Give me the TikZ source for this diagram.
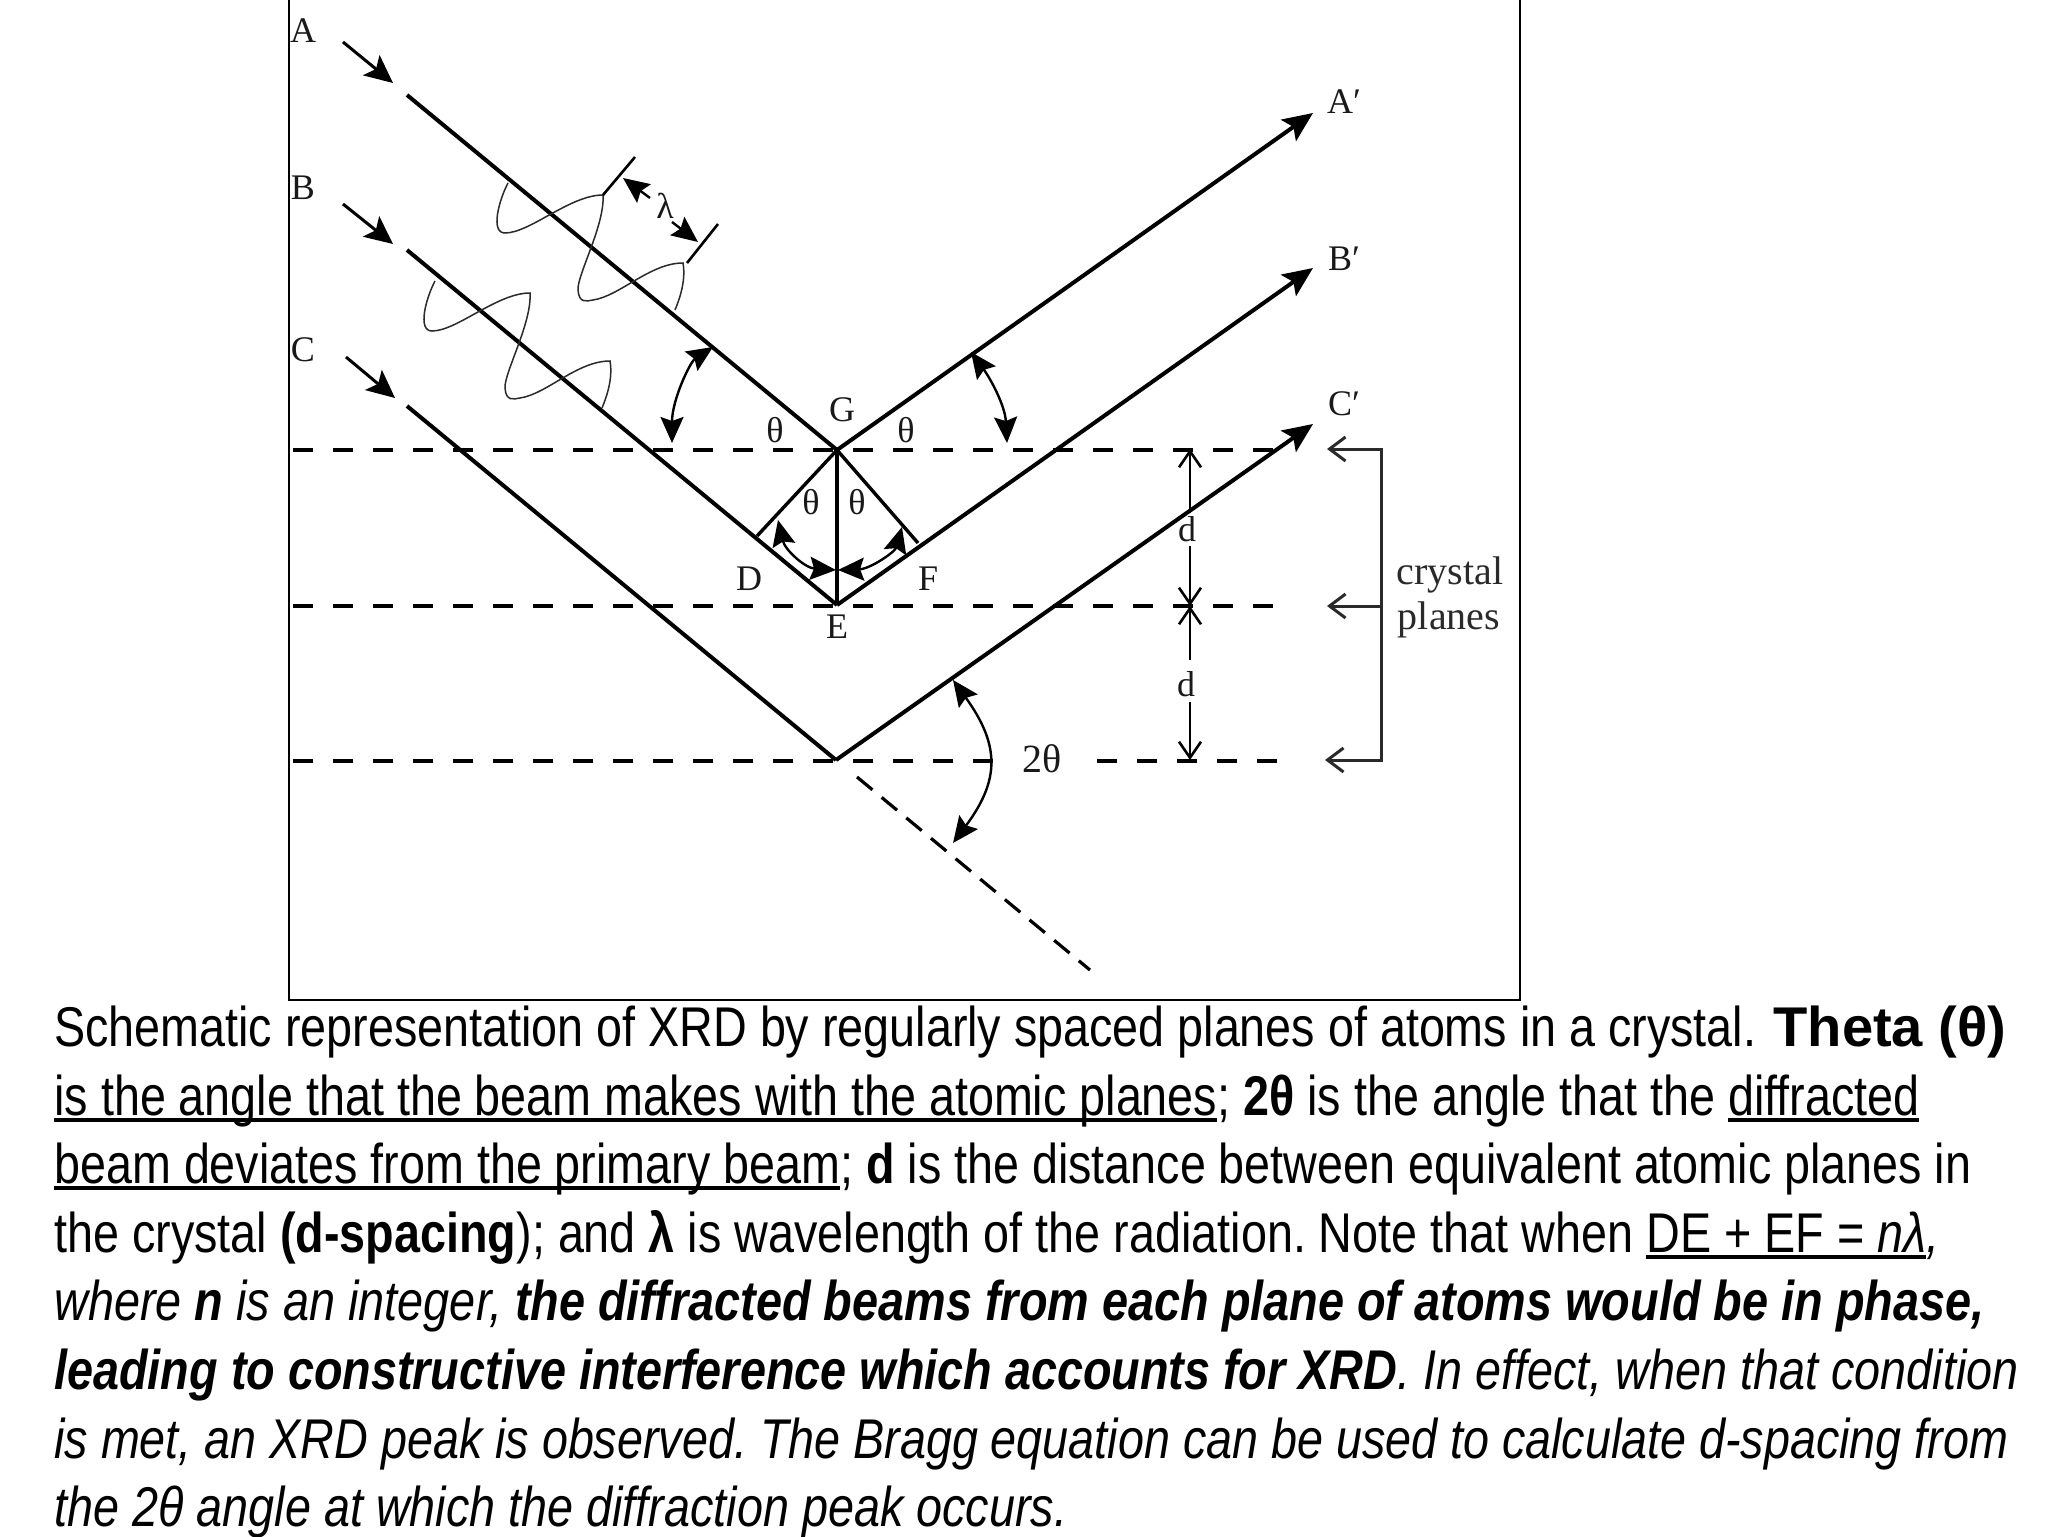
\documentclass[tikz,border=0pt]{standalone}
\usepackage{fontspec}
\usepackage{graphicx}
\usetikzlibrary{arrows.meta}
\setmainfont{Liberation Sans}
\newfontfamily\serifl{Liberation Serif}
\definecolor{inkgray}{HTML}{2A2A2A}
\newcommand\lineul[1]{\setbox0\hbox{#1}\rlap{\vrule width\wd0 height -1.65pt depth 3.35pt}\box0}
\newcommand\capline[3]{\resizebox{#1}{\height}{#2#3}}
\tikzset{
  beam/.style={line width=2pt,black},
  fine/.style={line width=1.7pt,black},
  incoming/.style={line width=1.5pt,-{Stealth[length=14pt,width=13pt,inset=3pt]}},
  outgoing/.style={beam,-{Stealth[length=15pt,width=13pt,inset=3pt]}},
  anglearrow/.style={line width=1.2pt,{Stealth[length=13pt,width=11.5pt,inset=2pt]}-{Stealth[length=13pt,width=11.5pt,inset=2pt]}},
  tipped/.style={line width=1.2pt,-{Stealth[length=13pt,width=11.5pt,inset=2pt]}},
  plane/.style={line width=2.2pt,dash pattern=on 10pt off 10pt},
  deviated/.style={line width=1.6pt,dash pattern=on 10pt off 6pt},
  wave/.style={line width=0.75pt,inkgray},
  barb/.style={line width=1.2pt,-{Straight Barb[length=8pt,width=11pt,line width=1.3pt]}},
  planearrow/.style={line width=1.5pt,inkgray,-{Straight Barb[length=8pt,width=12pt,line width=1.5pt]}},
  lab/.style={font=\serifl\fontsize{18}{20}\selectfont,inner sep=0pt,text=black!90},
  caption/.style={anchor=base west,inner sep=0pt,font=\frenchspacing\fontsize{28}{32}\selectfont},
}
\begin{document}
\begin{tikzpicture}[x=0.5pt,y=-0.5pt]
\path[use as bounding box,fill=white] (0,0) rectangle (2048,1536);
\begin{scope}
\clip (0,0) rectangle (2048,1536);
\draw[line width=1.25pt] (289,-10) -- (289,1000) -- (1520,1000) -- (1520,-10);
\end{scope}

% key points
\coordinate (G) at (837,450);
\coordinate (E) at (837,605);
\coordinate (V) at (836,760);
\coordinate (D) at (757,536);
\coordinate (F) at (918,543);
\coordinate (As) at (407,95);
\coordinate (Bs) at (407,250);
\coordinate (Cs) at (407,406);
\coordinate (Ae) at (1313,113);
\coordinate (Be) at (1313,268);
\coordinate (Ce) at (1313,424);

% crystal planes
\draw[plane] (293,450) -- (1280,450);
\draw[plane] (293,606) -- (1281,606);
\draw[plane] (293,761) -- (1000,761);
\draw[plane] (1097,761) -- (1281,761);
\coordinate (DevS) at (857,777);
\coordinate (DevE) at (1090,970);
\draw[deviated] (DevS) -- (DevE);

% beams
\draw[beam] (As) -- (G);
\draw[beam] (Bs) -- (E);
\draw[beam] (Cs) -- (V);
\draw[outgoing] (G) -- (Ae);
\draw[outgoing] (E) -- (Be);
\draw[outgoing] (V) -- (Ce);
\draw[line width=2.2pt] (G) -- (E);
\draw[fine] (G) -- (D);
\draw[fine] (G) -- (F);

% incoming arrows
\draw[incoming] (343,42) -- (393,83);
\draw[incoming] (343,204) -- (393,244);
\draw[incoming] (346,357) -- (395,398);

% waves
\foreach \dx/\dy in {0/0,-73/98}{
  \draw[wave,shift={(\dx,\dy)}] (508,183)
    .. controls (499,200) and (490,233) .. (505,233)
    .. controls (530,233) and (570,195) .. (603,195)
    .. controls (605,225) and (577,275) .. (578,290)
    .. controls (579,304) and (587,301) .. (593,300)
    .. controls (620,296) and (650,263) .. (683,263)
    .. controls (686,280) and (680,298) .. (675,310);
}

% wavelength marker
\draw[fine,line width=1.3pt] (603,195) -- (635,157);
\draw[fine,line width=1.3pt] (687,263) -- (718,224);
\draw[tipped] (650,198) -- (623,178);
\draw[tipped] (672,222) -- (698,242);
\node[lab] (lam) at (665,206) {λ};

% angle arcs
\draw[anglearrow] (713,347) .. controls (690,362) and (672,400) .. (672,443);
\draw[anglearrow] (971,352) .. controls (990,378) and (1005,405) .. (1007,443);
\draw[anglearrow] (953,680) .. controls (1000,745) and (1000,780) .. (953,843);
\draw[anglearrow] (778,520) .. controls (785,550) and (805,568) .. (836,570);
\draw[anglearrow] (902,527) .. controls (895,552) and (870,569) .. (838,570);

% d arrows
\coordinate (d1t) at (1190,449);
\coordinate (d1m) at (1190,510);
\coordinate (d1n) at (1190,546);
\coordinate (d1b) at (1190,606);
\coordinate (d2t) at (1190,606);
\coordinate (d2m) at (1190,660);
\coordinate (d2n) at (1190,702);
\coordinate (d2b) at (1190,760);
\draw[barb] (d1m) -- (d1t);
\draw[barb] (d1n) -- (d1b);
\draw[barb] (d2m) -- (d2t);
\draw[barb] (d2n) -- (d2b);
\node[lab] (d1) at (1187,529) {d};
\node[lab] (d2) at (1186,684) {d};

% crystal-plane bracket
\coordinate (P1) at (1327,449);
\coordinate (P2) at (1327,606);
\coordinate (P3) at (1325,760);
\coordinate (K1) at (1381,449);
\coordinate (K2) at (1381,606);
\coordinate (K3) at (1381,760);
\draw[planearrow] (K1) -- (P1);
\draw[planearrow] (K2) -- (P2);
\draw[planearrow] (K3) -- (P3);
\draw[line width=1.5pt,inkgray,line cap=rect] (K1) -- (K3);
\node[lab,font=\serifl\fontsize{20}{22}\selectfont,text=inkgray] (crys) at (1450,575) {crystal};
\node[lab,font=\serifl\fontsize{20}{22}\selectfont,text=inkgray] (plan) at (1449,620) {planes};

% labels
\node[lab] (lA) at (303,31) {A};
\node[lab] (lB) at (303,188) {B};
\node[lab] (lC) at (303,350) {C};
\node[lab] (lAp) at (1344,102) {A′};
\node[lab] (lBp) at (1344,259) {B′};
\node[lab] (lCp) at (1344,404) {C′};
\node[lab] (lG) at (842,410) {G};
\node[lab] (lD) at (749,579) {D};
\node[lab] (lE) at (837,627) {E};
\node[lab] (lF) at (928,579) {F};
\node[lab] (t1) at (775,430) {θ};
\node[lab] (t2) at (906,430) {θ};
\node[lab] (t3) at (811,502) {θ};
\node[lab] (t4) at (857,502) {θ};
\node[lab,font=\serifl\fontsize{20}{22}\selectfont] (t5) at (1042,759) {2θ};

% caption
\node[caption] (c1) at (54,1046) {\capline{851pt}{}{Schematic representation of XRD by regularly spaced planes of atoms in a crystal.}};
\node[caption] (c1b) at (1773,1046) {\capline{116.5pt}{}{\textbf{Theta (θ)}}};
\node[caption] (c2) at (54,1115) {\capline{932.5pt}{}{\lineul{is the angle that the beam makes with the atomic planes}; \textbf{2θ} is the angle that the \lineul{diffracted}}};
\node[caption] (c3) at (54,1183) {\capline{958.5pt}{}{\lineul{beam deviates from the primary beam}; \textbf{d} is the distance between equivalent atomic planes in}};
\node[caption] (c4) at (54,1252) {\capline{942.5pt}{}{the crystal \textbf{(d-spacing});\ and \textbf{λ} is wavelength of the radiation. Note that when \lineul{DE + EF = \textit{nλ}}\textit{,}}};
\node[caption] (c5) at (54,1320) {\capline{965pt}{\itshape}{where \textbf{n} is an integer, \textbf{the diffracted beams from each plane of atoms would be in phase,}}};
\node[caption] (c6) at (54,1389) {\capline{982pt}{\itshape}{\textbf{leading to constructive interference which accounts for XRD}. In effect, when that condition}};
\node[caption] (c7) at (54,1458) {\capline{977pt}{\itshape}{is met, an XRD peak is observed. The Bragg equation can be used to calculate d-spacing from}};
\node[caption] (c8) at (54,1526) {\capline{506.5pt}{\itshape}{the 2θ angle at which the diffraction peak occurs.}};
\end{tikzpicture}
\end{document}
